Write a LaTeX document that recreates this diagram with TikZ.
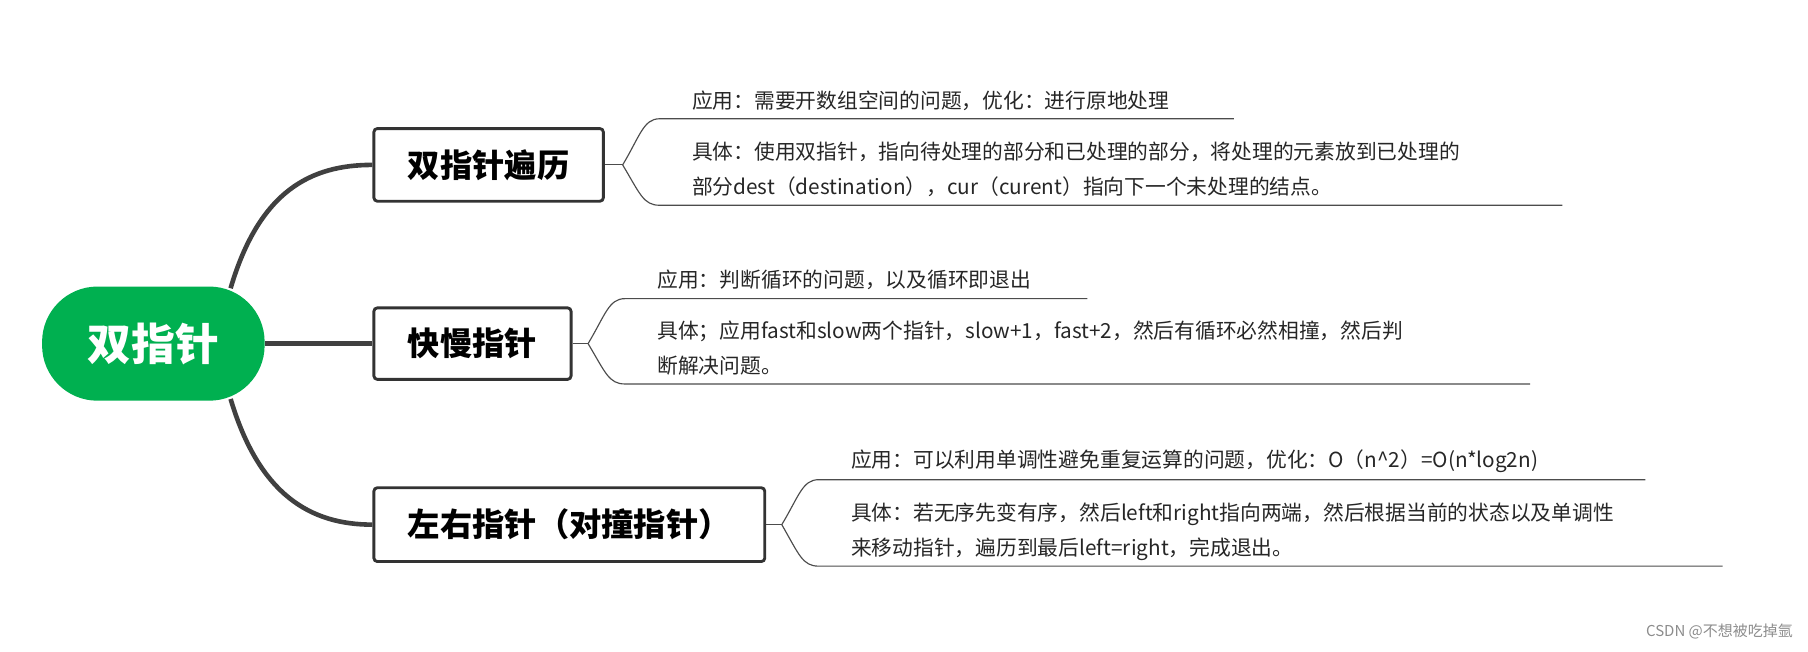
\documentclass[tikz,border=0pt]{standalone}
\usepackage{fontspec}
\setmainfont{Noto Sans CJK SC}
\definecolor{rootgreen}{RGB}{0,176,80}
\begin{document}
\begin{tikzpicture}[x=1pt,y=-1pt,
  box/.style={draw=black!80,line width=2.5pt,rounded corners=3pt,fill=white,inner sep=0pt,font=\fontsize{28}{32}\selectfont\bfseries,anchor=west},
  conn/.style={draw=black!75,line width=4pt},
  fork/.style={draw=black!70,line width=1pt},
  txt/.style={anchor=west,inner sep=0pt,font=\fontsize{18}{30}\selectfont,text=black!85,align=left}]
\useasboundingbox (0,0) rectangle (1568,565);
\node[fill=rootgreen,rounded corners=48pt,minimum width=193pt,minimum height=99pt,text=white,font=\fontsize{38}{42}\selectfont\bfseries] (root) at (133,298) {双指针};
\node[box,minimum width=199pt,minimum height=63pt] (b1) at (323,143) {双指针遍历};
\node[box,minimum width=171pt,minimum height=62pt] (b2) at (323,298) {快慢指针};
\node[box,minimum width=339pt,minimum height=64pt] (b3) at (323,455) {左右指针（对撞指针）};
\coordinate (r1) at (200,250);
\coordinate (r3) at (200,346);
\draw[conn] (r1) .. controls (225,165) and (270,143) .. (b1.west);
\draw[conn] (root.east) -- (b2.west);
\draw[conn] (r3) .. controls (225,430) and (270,455) .. (b3.west);
\coordinate (f1) at (540,143);
\draw[fork] (b1.east) -- (f1);
\draw[fork] (f1) .. controls (555,118) and (558,103) .. (572,103) -- (1070,103);
\draw[fork] (f1) .. controls (555,168) and (558,178) .. (572,178) -- (1355,178);
\node[txt] (t11) at (600,87) {应用：需要开数组空间的问题，优化：进行原地处理};
\node[txt] (t12) at (600,147) {具体：使用双指针，指向待处理的部分和已处理的部分，将处理的元素放到已处理的\\部分dest（destination），cur（curent）指向下一个未处理的结点。};
\coordinate (f2) at (510,298);
\draw[fork] (b2.east) -- (f2);
\draw[fork] (f2) .. controls (525,273) and (528,259) .. (542,259) -- (943,259);
\draw[fork] (f2) .. controls (525,323) and (528,333) .. (542,333) -- (1327,333);
\node[txt] (t21) at (570,243) {应用：判断循环的问题，以及循环即退出};
\node[txt] (t22) at (570,302) {具体；应用fast和slow两个指针，slow+1，fast+2，然后有循环必然相撞，然后判\\断解决问题。};
\coordinate (f3) at (678,455);
\draw[fork] (b3.east) -- (f3);
\draw[fork] (f3) .. controls (693,430) and (696,416) .. (710,416) -- (1427,416);
\draw[fork] (f3) .. controls (693,481) and (696,491) .. (710,491) -- (1494,491);
\node[txt] (t31) at (738,400) {应用：可以利用单调性避免重复运算的问题，优化：O（n\^{}2）=O(n*log2n)};
\node[txt] (t32) at (738,461) {具体：若无序先变有序，然后left和right指向两端，然后根据当前的状态以及单调性\\来移动指针，遍历到最后left=right，完成退出。};
\node[anchor=east,inner sep=0pt,text=black!45,font=\fontsize{13}{15}\selectfont] (wm) at (1555,548) {CSDN @不想被吃掉氩};
\end{tikzpicture}
\end{document}
